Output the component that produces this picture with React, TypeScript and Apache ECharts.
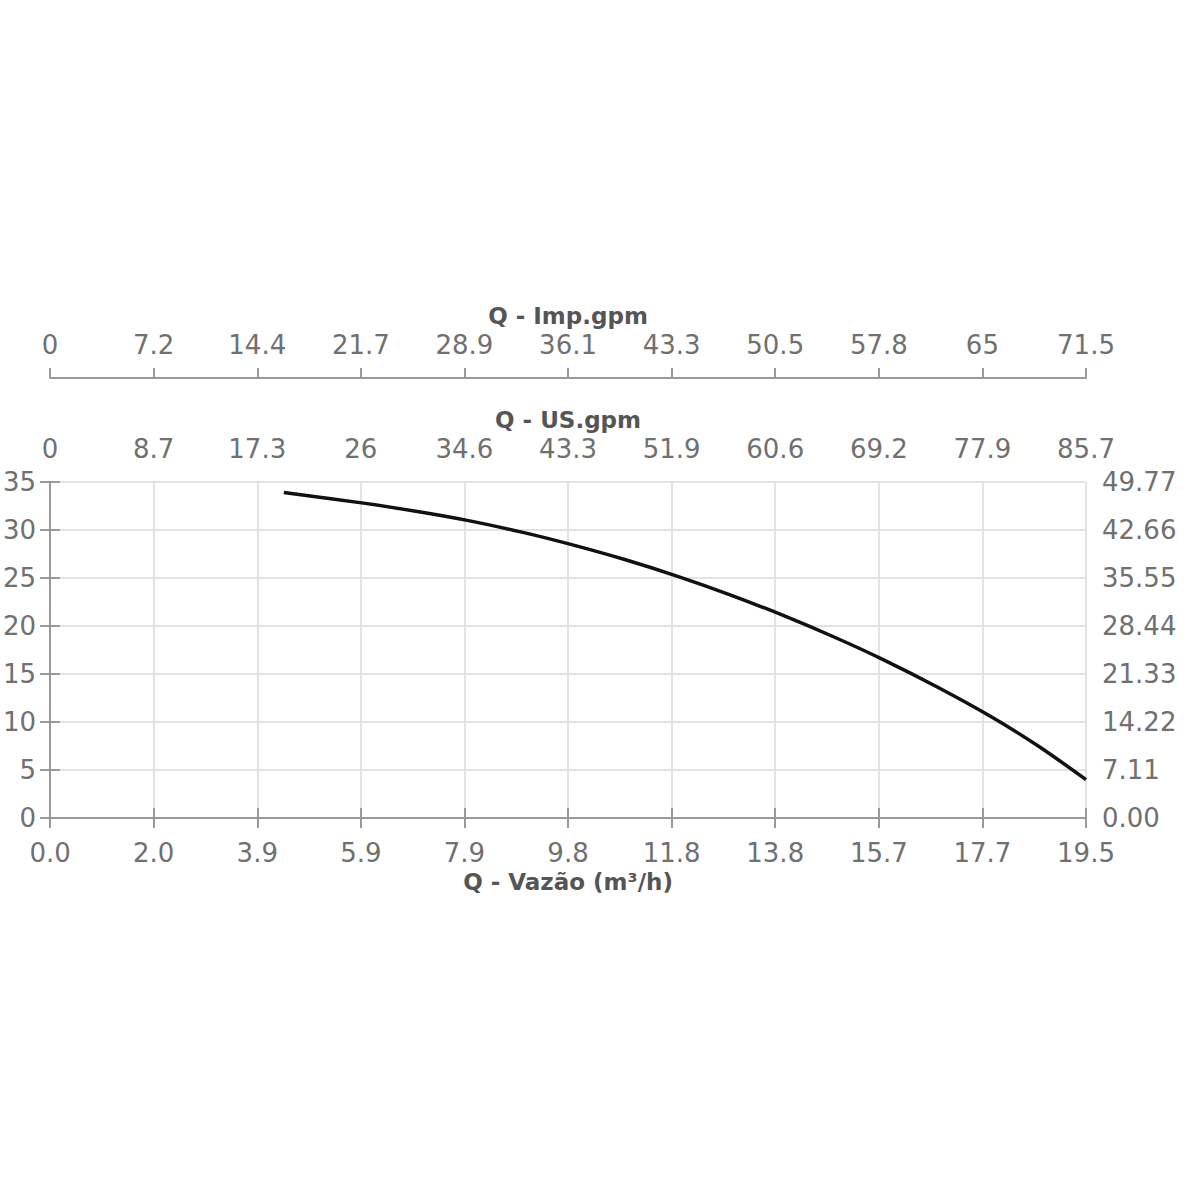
import React, { useEffect, useRef } from "react";
import * as echarts from "echarts";

const flowLabels = ["0.0", "2.0", "3.9", "5.9", "7.9", "9.8", "11.8", "13.8", "15.7", "17.7", "19.5"];
const usGpmLabels = ["0", "8.7", "17.3", "26", "34.6", "43.3", "51.9", "60.6", "69.2", "77.9", "85.7"];
const impGpmLabels = ["0", "7.2", "14.4", "21.7", "28.9", "36.1", "43.3", "50.5", "57.8", "65", "71.5"];
const headLabels = ["0", "5", "10", "15", "20", "25", "30", "35"];
const headFtLabels = ["0.00", "7.11", "14.22", "21.33", "28.44", "35.55", "42.66", "49.77"];

const flowValues = [4.4, 5.9, 7.0, 7.9, 8.9, 9.8, 10.8, 11.8, 12.8, 13.8, 14.8, 15.7, 16.7, 17.7, 18.6, 19.5];
const headValues = [33.9, 32.8, 31.85, 30.95, 29.75, 28.5, 26.95, 25.2, 23.25, 21.1, 18.75, 16.45, 13.65, 10.6, 7.5, 4.0];

const X_MAX = 19.5;
const X_STEP = 1.95;
const Y_MAX = 35;
const Y_STEP = 5;

export default function App() {
  const ref = useRef<HTMLDivElement>(null);
  useEffect(() => {
    if (!ref.current) return;
    const chart = echarts.init(ref.current, null, { renderer: "svg" });
    const font = "DejaVu Sans";
    const labelStyle = { color: "#707070", fontSize: 26, fontFamily: font };
    const nameStyle = { color: "#555", fontSize: 23, fontWeight: "bold" as const, fontFamily: font };
    const axisLine = { show: true, lineStyle: { color: "#999", width: 2 } };
    const tick = { show: true, length: 10, lineStyle: { color: "#999", width: 2 } };
    const xIdx = (v: number) => Math.round(v / X_STEP);
    const yIdx = (v: number) => Math.round(v / Y_STEP);
    const baseX = {
      type: "value" as const,
      min: 0,
      max: X_MAX,
      interval: X_STEP,
      nameLocation: "middle" as const,
      nameTextStyle: nameStyle,
      axisLine,
      axisTick: tick,
    };
    chart.setOption({
      animation: false,
      backgroundColor: "#fff",
      grid: { left: 47, right: 114, top: 482, bottom: 382 },
      xAxis: [
        {
          ...baseX,
          position: "bottom",
          name: "Q - Vazão (m³/h)",
          nameGap: 52,
          axisLabel: { ...labelStyle, margin: 22, formatter: (v: number) => flowLabels[xIdx(v)] ?? "" },
          splitLine: { show: true, lineStyle: { color: "#e2e2e2", width: 2 } },
        },
        {
          ...baseX,
          position: "top",
          offset: 0,
          name: "Q - US.gpm",
          nameGap: 51,
          axisLabel: { ...labelStyle, margin: 20, formatter: (v: number) => usGpmLabels[xIdx(v)] ?? "" },
          splitLine: { show: false },
        },
        {
          ...baseX,
          position: "top",
          offset: 104,
          name: "Q - Imp.gpm",
          nameGap: 51,
          axisLabel: { ...labelStyle, margin: 20, formatter: (v: number) => impGpmLabels[xIdx(v)] ?? "" },
          splitLine: { show: false },
        },
      ],
      yAxis: [
        {
          type: "value",
          position: "left",
          min: 0,
          max: Y_MAX,
          interval: Y_STEP,
          axisLine,
          axisTick: tick,
          axisLabel: { ...labelStyle, margin: 14, formatter: (v: number) => headLabels[yIdx(v)] ?? "" },
          splitLine: { show: true, lineStyle: { color: "#e2e2e2", width: 2 } },
        },
        {
          type: "value",
          position: "right",
          min: 0,
          max: Y_MAX,
          interval: Y_STEP,
          axisLine,
          axisTick: tick,
          axisLabel: { ...labelStyle, margin: 16, formatter: (v: number) => headFtLabels[yIdx(v)] ?? "" },
          splitLine: { show: false },
        },
      ],
      series: [
        {
          type: "line",
          xAxisIndex: 0,
          yAxisIndex: 0,
          data: flowValues.map((x, i) => [x, headValues[i]]),
          smooth: 0.3,
          showSymbol: false,
          lineStyle: { color: "#111", width: 3.5 },
        },
      ],
    });
    return () => chart.dispose();
  }, []);
  return (
    <div
      ref={ref}
      style={{ position: "absolute", left: 0, top: 0, width: 1200, height: 1200 }}
    />
  );
}
